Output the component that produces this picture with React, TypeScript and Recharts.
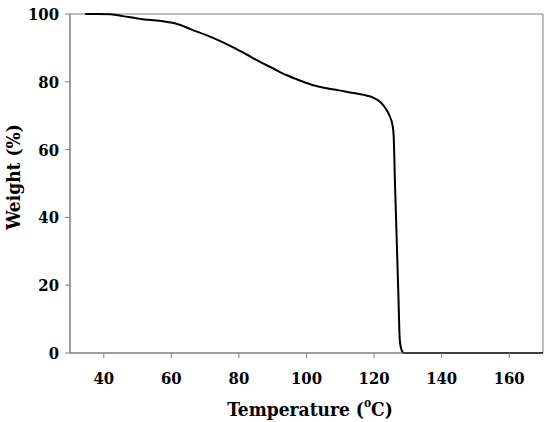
import { Label, Line, LineChart, ReferenceArea, XAxis, YAxis } from "recharts";

const temperature = [
  34.5, 38, 42, 46, 50, 54, 58, 62, 66, 70, 74, 78, 82, 86, 90, 94, 98, 102, 106, 110, 114, 118,
  120, 122, 123.7, 124.7, 125.5, 125.8, 126.2, 126.7, 127.2, 127.6, 128.1, 128.8, 135, 150, 170,
];
const weight = [
  100, 100, 99.9, 99.3, 98.7, 98.2, 97.8, 97.0, 95.4, 93.9, 92.2, 90.3, 88.2, 86.0, 84.0, 82.0,
  80.4, 79.0, 78.1, 77.4, 76.7, 75.9, 75.2, 73.9, 71.7, 69.7, 67, 64, 49.7, 33.4, 17, 4, 1, 0, 0, 0,
  0,
];
const xTicks = [40, 60, 80, 100, 120, 140, 160];
const yTicks = [0, 20, 40, 60, 80, 100];

const data = temperature.map((t, i) => ({ t, w: weight[i] }));

const AXIS = "#7f7f7f";
const FONT = "DejaVu Serif";

const XTick = (props: any) => (
  <text
    x={props.x}
    y={props.y + 26}
    textAnchor="middle"
    fontFamily={FONT}
    fontStretch="condensed"
    fontWeight={700}
    fontSize={16.5}
    fill="#000"
  >
    {props.payload.value}
  </text>
);

const YTick = (props: any) => (
  <text
    x={props.x}
    y={props.y + 6}
    textAnchor="end"
    fontFamily={FONT}
    fontStretch="condensed"
    fontWeight={700}
    fontSize={16.5}
    fill="#000"
  >
    {props.payload.value}
  </text>
);

const YTitle = () => (
  <text
    x={13}
    y={177}
    transform="rotate(-90 13 177)"
    textAnchor="middle"
    dominantBaseline="central"
    fontFamily={FONT}
    fontStretch="condensed"
    fontWeight={700}
    fontSize={19}
    fill="#000"
  >
    Weight (%)
  </text>
);

const XTitle = () => (
  <text
    x={310}
    y={416}
    textAnchor="middle"
    fontFamily={FONT}
    fontStretch="condensed"
    fontWeight={700}
    fontSize={19}
    fill="#000"
  >
    Temperature (
    <tspan fontSize={12} dy={-9}>
      o
    </tspan>
    <tspan dy={9}>C)</tspan>
  </text>
);

export default function App() {
  return (
    <div style={{ position: "absolute", left: 0, top: 0, background: "#fff" }}>
      <LineChart width={550} height={422} data={data} margin={{ top: 14, right: 7, left: 0, bottom: 0 }}>
        <XAxis
          dataKey="t"
          type="number"
          domain={[30, 170]}
          ticks={xTicks}
          allowDataOverflow
          height={69}
          stroke={AXIS}
          tickSize={5}
          tickMargin={0}
          tick={<XTick />}
          tickLine={{ stroke: AXIS }}
        >
          <Label content={<XTitle />} />
        </XAxis>
        <YAxis
          type="number"
          domain={[0, 100]}
          ticks={yTicks}
          width={70}
          stroke={AXIS}
          tickSize={5}
          tickMargin={6}
          tick={<YTick />}
          tickLine={{ stroke: AXIS }}
        >
          <Label content={<YTitle />} />
        </YAxis>
        <ReferenceArea x1={30} x2={170} y1={0} y2={100} fill="none" stroke={AXIS} strokeWidth={1} />
        <Line
          type="monotone"
          dataKey="w"
          stroke="#000"
          strokeWidth={2}
          dot={false}
          isAnimationActive={false}
        />
      </LineChart>
    </div>
  );
}
